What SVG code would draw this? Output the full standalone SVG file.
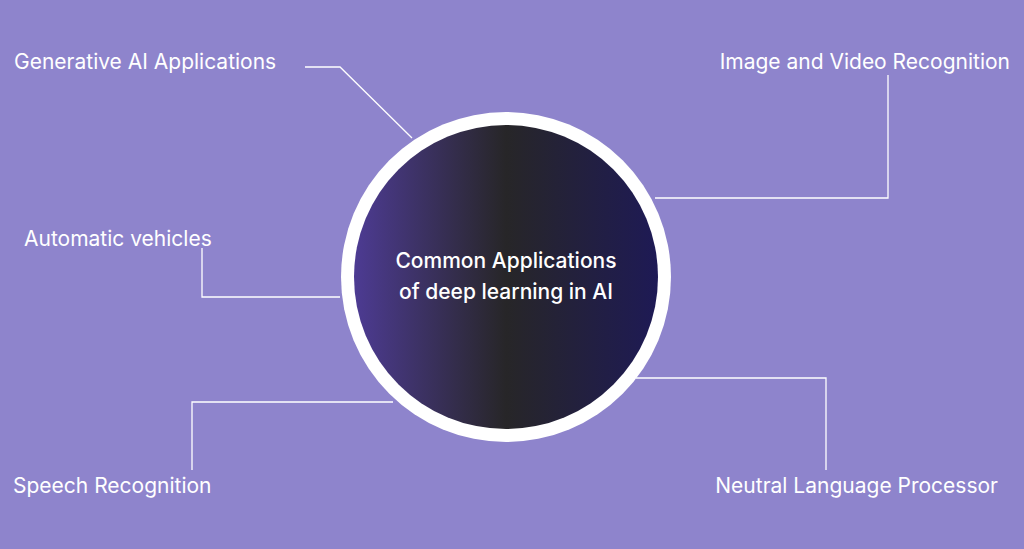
<svg xmlns="http://www.w3.org/2000/svg" width="1024" height="549" viewBox="0 0 1024 549">
<defs>
<linearGradient id="g" x1="0" x2="1" y1="0" y2="0">
<stop offset="0" stop-color="#4d3b93"/>
<stop offset="0.5" stop-color="#272628"/>
<stop offset="1" stop-color="#1e1a55"/>
</linearGradient>
<style>
.lbl{font-family:Inter,"Liberation Sans",sans-serif;font-size:21px;fill:#ffffff}
.c{fill:none;stroke:#ffffff;stroke-width:1.3}
</style>
</defs>
<rect width="1024" height="549" fill="#8e84cc"/>
<g id="connectors">
<polyline class="c" points="305,67 340,67 412,138"/>
<polyline class="c" points="888,75 888,198 655,198"/>
<polyline class="c" points="202,248 202,297 340,297"/>
<polyline class="c" points="393,402 192,402 192,470"/>
<polyline class="c" points="636,378 826,378 826,470"/>
</g>
<g id="center">
<circle cx="506" cy="277" r="165" fill="#ffffff"/>
<circle cx="506" cy="277" r="152" fill="url(#g)"/>
<text x="506" y="268" text-anchor="middle" font-family="Inter,'Liberation Sans',sans-serif" font-size="21" font-weight="500" fill="#ffffff">Common Applications</text>
<text x="506" y="299" text-anchor="middle" font-family="Inter,'Liberation Sans',sans-serif" font-size="21" font-weight="500" fill="#ffffff">of deep learning in AI</text>
</g>
<g id="generative"><text class="lbl" x="14" y="69">Generative AI Applications</text></g>
<g id="image"><text class="lbl" x="1010" y="69" text-anchor="end">Image and Video Recognition</text></g>
<g id="vehicles"><text class="lbl" x="24" y="246">Automatic vehicles</text></g>
<g id="speech"><text class="lbl" x="13" y="493">Speech Recognition</text></g>
<g id="nlp"><text class="lbl" x="998" y="493" text-anchor="end">Neutral Language Processor</text></g>
</svg>
